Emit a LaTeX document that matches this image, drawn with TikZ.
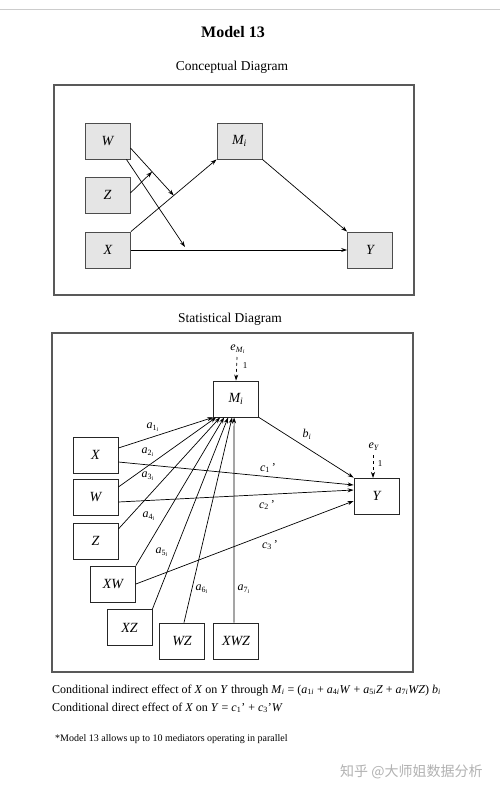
\documentclass[tikz,border=0pt]{standalone}
\usepackage{fontspec}
\setmainfont{Liberation Serif}
\newfontfamily\cjkfont{Noto Sans CJK SC}
\usetikzlibrary{arrows.meta,calc}

\newcommand{\vi}[1]{\textit{#1}}
\newcommand{\sbs}[1]{\textsubscript{#1}}

\begin{document}
\begin{tikzpicture}[
        x=1pt, y=-1pt,
        every node/.style={inner sep=0pt},
        cbox/.style={draw=black!70, fill=black!10, line width=0.9pt, minimum width=45pt, minimum height=36pt, font=\fontsize{14}{16}\selectfont\itshape},
        sbox/.style={draw=black!85, fill=white, line width=0.8pt, minimum width=45pt, minimum height=36pt, font=\fontsize{14}{16}\selectfont\itshape},
        frame/.style={draw=black!65, line width=1.2pt},
        ar/.style={-{Stealth[length=6pt,width=4pt]}, line width=0.7pt},
        dar/.style={ar, dashed},
        lab/.style={font=\fontsize{12}{14}\selectfont},
        one/.style={font=\fontsize{9}{10}\selectfont},
        txt/.style={anchor=base west, font=\fontsize{12}{14}\selectfont},
    ]
    \fill[white] (0,0) rectangle (500,794);
    \useasboundingbox (0,0) rectangle (500,794);
    \draw[black!20, line width=0.8pt] (0,9) -- (500,9);

    % titles
    \node[font=\fontsize{16}{18}\selectfont\bfseries](title) at (233,32) {Model 13};
    \node[font=\fontsize{13.5}{16}\selectfont](ctitle) at (232,67) {Conceptual Diagram};
    \node[font=\fontsize{13.5}{16}\selectfont](stitle) at (230,319) {Statistical Diagram};

    % conceptual diagram
    \draw[frame] (54,85) rectangle (414,295);
    \node[cbox](Wc) at (107.5,141) {W};
    \node[cbox](Zc) at (107.5,195) {Z};
    \node[cbox](Xc) at (108,250) {X};
    \node[cbox](Mc) at (239.5,141) {M\sbs{i}};
    \node[cbox](Yc) at (370,250) {Y};

    \coordinate (pXM) at ($(Xc.north east)!0.5!(Mc.south west)$);
    \coordinate (pXY) at ($(Xc.east)!0.25!(Yc.west)+(0,-3)$);
    \coordinate (pW) at ($([yshift=-7pt]Wc.east)!0.5!(pXM)$);

    \draw[ar] (Xc.north east) -- (Mc.south west);
    \draw[ar] (Xc.east) -- (Yc.west);
    \draw[ar] (Mc.south east) -- (Yc.north west);
    \draw[ar] ([yshift=-7pt]Wc.east) -- (pXM);
    \draw[ar] ([xshift=-4pt]Wc.south east) -- (pXY);
    \draw[ar] ([yshift=2pt]Zc.east) -- (pW);

    % statistical diagram
    \draw[frame] (52,333) rectangle (413,672);
    \node[sbox](Ms) at (236,399) {M\sbs{i}};
    \node[sbox](Xs) at (95.5,455) {X};
    \node[sbox](Ws) at (95.5,497) {W};
    \node[sbox](Zs) at (95.5,541) {Z};
    \node[sbox](XWs) at (113,584) {XW};
    \node[sbox](XZs) at (129.5,627.5) {XZ};
    \node[sbox](WZs) at (182,641) {WZ};
    \node[sbox](XWZs) at (236,641) {XWZ};
    \node[sbox](Ys) at (376.5,496) {Y};

    \node[lab](eM) at (238,349) {\vi{e}\sbs{\vi{M}\sbs{\vi{i}}}};
    \node[lab](eY) at (374,447) {\vi{e}\sbs{\vi{Y}}};
    \node[one](oneM) at (245,366) {1};
    \node[one](oneY) at (380,464) {1};
    \draw[dar] (237,357) -- (Ms.north);
    \draw[dar] (373,455) -- (373,478);

    \draw[ar] ([yshift=7pt]Xs.east) -- (Ms.south west);
    \draw[ar] ([yshift=10pt]Ws.east) -- ([xshift=3pt]Ms.south west);
    \draw[ar] ([yshift=12pt]Zs.east) -- ([xshift=7pt]Ms.south west);
    \draw[ar] (XWs.north east) -- ([xshift=11pt]Ms.south west);
    \draw[ar] (XZs.north east) -- ([xshift=15pt]Ms.south west);
    \draw[ar] ([xshift=2pt]WZs.north) -- ([xshift=19pt]Ms.south west);
    \draw[ar] ([xshift=-2pt]XWZs.north) -- ([xshift=21pt]Ms.south west);

    \draw[ar] (Ms.south east) -- (Ys.north west);
    \draw[ar] ([yshift=-7pt]Xs.east) -- ([yshift=11pt]Ys.west);
    \draw[ar] ([yshift=-5pt]Ws.east) -- ([yshift=6pt]Ys.west);
    \draw[ar] (XWs.east) -- ([yshift=-5pt]Ys.west);

    \node[lab](la1) at (153,427) {\vi{a}\sbs{1\sbs{\vi{i}}}};
    \node[lab](la2) at (148,452) {\vi{a}\sbs{2\sbs{\vi{i}}}};
    \node[lab](la3) at (148,476) {\vi{a}\sbs{3\sbs{\vi{i}}}};
    \node[lab](la4) at (149,516) {\vi{a}\sbs{4\sbs{\vi{i}}}};
    \node[lab](la5) at (162,552) {\vi{a}\sbs{5\sbs{\vi{i}}}};
    \node[lab](la6) at (202,589) {\vi{a}\sbs{6\sbs{\vi{i}}}};
    \node[lab](la7) at (244,589) {\vi{a}\sbs{7\sbs{\vi{i}}}};
    \node[lab](lb) at (307,434) {\vi{b}\sbs{\vi{i}}};
    \node[lab](lc1) at (268,468) {\vi{c}\sbs{1}\,’};
    \node[lab](lc2) at (267,505) {\vi{c}\sbs{2}\,’};
    \node[lab](lc3) at (270,545) {\vi{c}\sbs{3}\,’};

    % effects
    \node[txt](ind) at (52,693) {Conditional indirect effect of \vi{X} on \vi{Y} through \vi{M}\sbs{\vi{i}} = (\vi{a}\sbs{1\vi{i}} + \vi{a}\sbs{4\vi{i}}\vi{W} + \vi{a}\sbs{5\vi{i}}\vi{Z} + \vi{a}\sbs{7\vi{i}}\vi{WZ}) \vi{b}\sbs{\vi{i}}};
    \node[txt](dir) at (52,711) {Conditional direct effect of \vi{X} on \vi{Y} = \vi{c}\sbs{1}’ + \vi{c}\sbs{3}’\vi{W}};
    \node[txt, font=\fontsize{10}{12}\selectfont](note) at (55,741) {*Model 13 allows up to 10 mediators operating in parallel};
    \node[anchor=west, text=black!30, font=\cjkfont\fontsize{14}{16}\selectfont](mark) at (340,772) {知乎 @大师姐数据分析};
\end{tikzpicture}
\end{document}
